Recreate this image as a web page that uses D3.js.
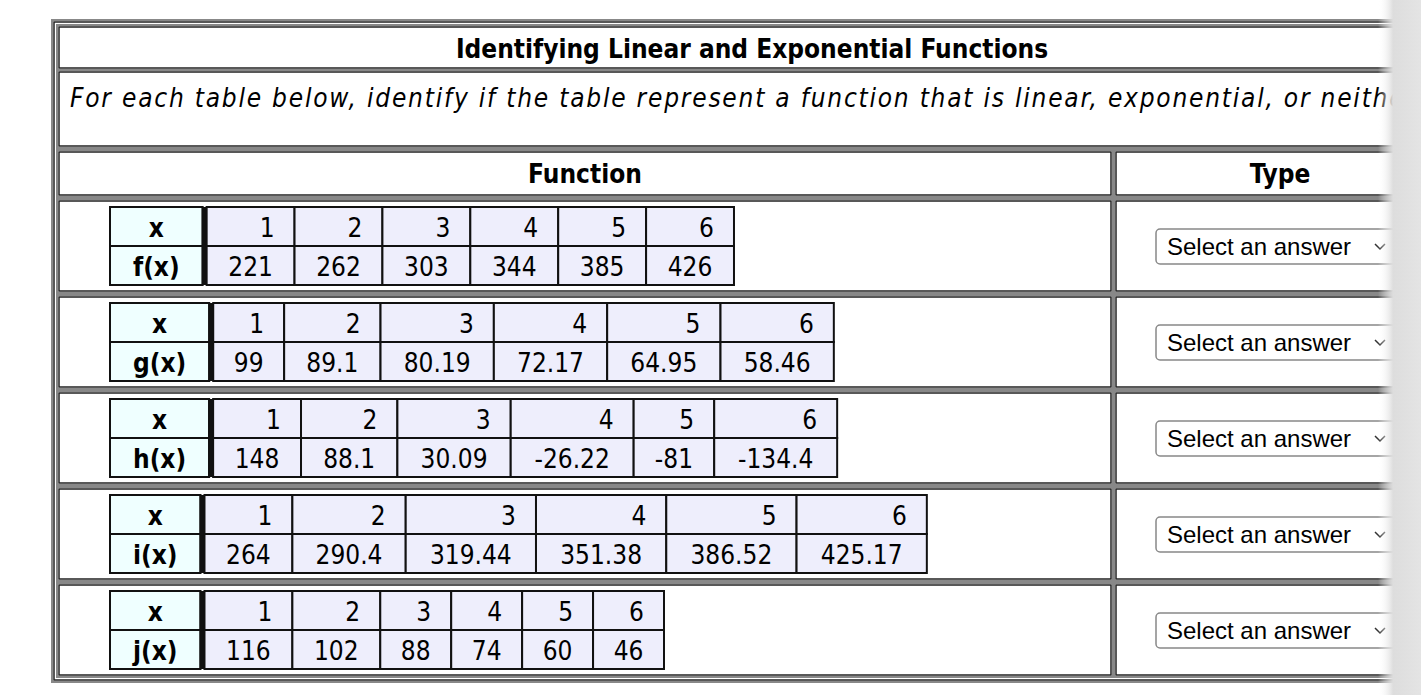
<!DOCTYPE html>
<html><head><meta charset="utf-8">
<script src="https://cdn.jsdelivr.net/npm/d3@7"></script>
<style>body{margin:0;background:#fff;overflow:hidden}</style>
</head><body>
<script>
// table content
var title = "Identifying Linear and Exponential Functions";
var instructions = "For each table below, identify if the table represent a function that is linear, exponential, or neither";
var headers = ["Function", "Type"];
var fnNames = ["f(x)", "g(x)", "h(x)", "i(x)", "j(x)"];
var xValues = ["1", "2", "3", "4", "5", "6"];
var fValues = ["221", "262", "303", "344", "385", "426"];
var gValues = ["99", "89.1", "80.19", "72.17", "64.95", "58.46"];
var hValues = ["148", "88.1", "30.09", "-26.22", "-81", "-134.4"];
var iValues = ["264", "290.4", "319.44", "351.38", "386.52", "425.17"];
var jValues = ["116", "102", "88", "74", "60", "46"];
var allValues = [fValues, gValues, hValues, iValues, jValues];
var selectText = "Select an answer";

var W = 1421, H = 695;
var svg = d3.select("body").append("svg").attr("width", W).attr("height", H);
var font = "DejaVu Sans Condensed, DejaVu Sans";

// ridge-like box
function box(x, y, w, h) {
  svg.append("rect").attr("x", x).attr("y", y).attr("width", w).attr("height", h)
    .attr("fill", "none").attr("stroke", "#888").attr("stroke-width", 2);
  svg.append("rect").attr("x", x + 2).attr("y", y + 2).attr("width", w - 4).attr("height", h - 4)
    .attr("fill", "none").attr("stroke", "#222").attr("stroke-width", 1.5);
}

box(52, 20, 1400, 662);
box(57, 25, 1400, 45);
svg.append("text").attr("x", 752).attr("y", 58).attr("text-anchor", "middle")
  .attr("font-family", font).attr("font-weight", "bold").attr("font-size", 26).text(title);
box(57, 70, 1400, 78);
svg.append("text").attr("x", 70).attr("y", 107)
  .attr("font-family", font).attr("font-style", "italic").attr("font-size", 26)
  .attr("textLength", 1345).attr("lengthAdjust", "spacing").text(instructions);

// header row
box(57, 150, 1056, 47);
box(1114, 150, 340, 47);
svg.append("text").attr("x", 585).attr("y", 183).attr("text-anchor", "middle")
  .attr("font-family", font).attr("font-weight", "bold").attr("font-size", 26).text(headers[0]);
svg.append("text").attr("x", 1280).attr("y", 183).attr("text-anchor", "middle")
  .attr("font-family", font).attr("font-weight", "bold").attr("font-size", 26).text(headers[1]);

var measure = svg.append("text").attr("font-family", font).attr("font-size", 26);
function tw(s, bold) {
  measure.attr("font-weight", bold ? "bold" : "normal").text(s);
  return measure.node().getComputedTextLength();
}

var rowY = d3.scaleLinear().domain([0, 1]).range([199, 295]);

fnNames.forEach(function(name, r) {
  var y0 = rowY(r);
  box(57, y0, 1056, 94);
  box(1114, y0, 340, 94);

  // select box
  svg.append("rect").attr("x", 1156).attr("y", y0 + 30).attr("width", 270).attr("height", 35)
    .attr("rx", 4).attr("fill", "#fff").attr("stroke", "#888").attr("stroke-width", 1.5);
  svg.append("text").attr("x", 1167).attr("y", y0 + 56)
    .attr("font-family", "Liberation Sans, Arial").attr("font-size", 24).text(selectText);
  svg.append("path").attr("d", "M1375," + (y0 + 45) + "l5,5l5,-5")
    .attr("fill", "none").attr("stroke", "#333").attr("stroke-width", 1.5);

  // inner table
  var vals = allValues[r];
  var labW = tw(name, true) + 46;
  var colW = vals.map(function(v, i) {
    return Math.max(tw(v), tw(xValues[i])) * 1.14 + 37;
  });
  var edges = [0];
  colW.forEach(function(w) { edges.push(edges[edges.length - 1] + w); });
  var x0 = 110 + labW + 4;
  var xs = d3.scaleLinear().domain([0, edges[edges.length - 1]]).range([x0, x0 + edges[edges.length - 1]]);
  var ty = y0 + 8, rh = 39;

  // label column
  [["x", 0], [name, 1]].forEach(function(p) {
    svg.append("rect").attr("x", 110).attr("y", ty + p[1] * rh).attr("width", labW).attr("height", rh)
      .attr("fill", "#efffff").attr("stroke", "#111").attr("stroke-width", 2);
    svg.append("text").attr("x", 110 + labW / 2).attr("y", ty + p[1] * rh + 30).attr("text-anchor", "middle")
      .attr("font-family", font).attr("font-weight", "bold").attr("font-size", 26).text(p[0]);
  });
  svg.append("rect").attr("x", 110 + labW - 1).attr("y", ty).attr("width", 5).attr("height", 2 * rh).attr("fill", "#111");

  vals.forEach(function(v, i) {
    var a = xs(edges[i]), b = xs(edges[i + 1]);
    [0, 1].forEach(function(k) {
      svg.append("rect").attr("x", a).attr("y", ty + k * rh).attr("width", b - a).attr("height", rh)
        .attr("fill", "#eeeefc").attr("stroke", "#111").attr("stroke-width", 2);
    });
    svg.append("text").attr("x", b - 20).attr("y", ty + 30).attr("text-anchor", "end")
      .attr("font-family", font).attr("font-size", 26).text(xValues[i]);
    svg.append("text").attr("x", (a + b) / 2).attr("y", ty + rh + 30).attr("text-anchor", "middle")
      .attr("font-family", font).attr("font-size", 26).text(v);
  });
});
measure.remove();

// right edge fade
var grad = svg.append("defs").append("linearGradient").attr("id", "fade");
grad.append("stop").attr("offset", "0").attr("stop-color", "#fff").attr("stop-opacity", 0);
grad.append("stop").attr("offset", "0.35").attr("stop-color", "#ddd").attr("stop-opacity", 1);
grad.append("stop").attr("offset", "1").attr("stop-color", "#e4e4e4").attr("stop-opacity", 1);
svg.append("rect").attr("x", 1378).attr("y", 0).attr("width", 43).attr("height", H).attr("fill", "url(#fade)");
</script>
</body></html>
